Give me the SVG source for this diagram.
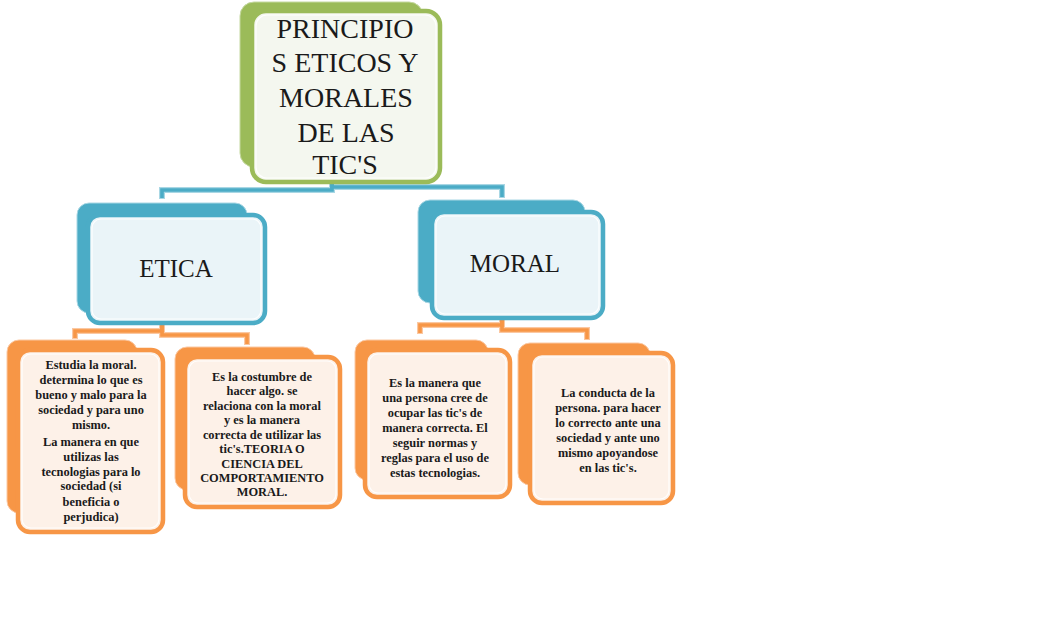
<svg xmlns="http://www.w3.org/2000/svg" width="1055" height="630" viewBox="0 0 1055 630">
<style>
.bg{fill:#ffffff}
.gback{fill:#9bbb59;stroke:#c5d9a0;stroke-width:1}
.gfront{fill:#f4f7ef;stroke:#9bbb59;stroke-width:4.5}
.bback{fill:#4bacc6;stroke:#a9d7e4;stroke-width:1}
.bfront{fill:#eaf4f8;stroke:#4bacc6;stroke-width:4.5}
.oback{fill:#f79646;stroke:#fbc8a2;stroke-width:1}
.ofront{fill:#fdf1e8;stroke:#f79646;stroke-width:4.5}
.inner{fill:none;stroke:#ffffff;stroke-width:1.2;opacity:0.9}
.cbo{fill:none;stroke:#a9d7e4;stroke-width:6;stroke-linejoin:miter}
.cb{fill:none;stroke:#4bacc6;stroke-width:3.6;stroke-linejoin:miter}
.coo{fill:none;stroke:#fbc8a2;stroke-width:6;stroke-linejoin:miter}
.co{fill:none;stroke:#f79646;stroke-width:3.6;stroke-linejoin:miter}
.title{font-family:"Liberation Serif","DejaVu Serif",serif;font-size:28px;fill:#1a1a1a;text-anchor:middle}
.mid{font-family:"Liberation Serif","DejaVu Serif",serif;font-size:25px;fill:#1a1a1a;text-anchor:middle}
.body{font-family:"Liberation Serif","DejaVu Serif",serif;font-size:12.4px;font-weight:bold;fill:#1a1a1a;text-anchor:middle}
</style>
<rect class="bg" x="0" y="0" width="1055" height="630"/>

<g id="connectors">
  <path class="cbo" d="M332,183 V190 H162 V199"/>
  <path class="cbo" d="M332,183 V187 H502 V198"/>
  <path class="cb" d="M332,183 V190 H162 V198"/>
  <path class="cb" d="M332,183 V187 H502 V197"/>
  <path class="coo" d="M162,323 V331 H75 V339"/>
  <path class="coo" d="M162,323 V335 H247 V345"/>
  <path class="co" d="M162,323 V331 H75 V338"/>
  <path class="co" d="M162,323 V335 H247 V344"/>
  <path class="coo" d="M502,318 V325 H420 V334"/>
  <path class="coo" d="M502,318 V330 H587 V340"/>
  <path class="co" d="M502,318 V325 H420 V333"/>
  <path class="co" d="M502,318 V330 H587 V339"/>
</g>

<g id="node-principios">
  <rect class="gback" x="240" y="2" width="183" height="165" rx="14"/>
  <rect class="gfront" x="252" y="11" width="188" height="171" rx="14"/>
  <rect class="inner" x="256" y="15" width="180" height="163" rx="11"/>
  <text class="title" x="345" y="38">PRINCIPIO</text>
  <text class="title" x="345" y="72">S ETICOS Y</text>
  <text class="title" x="346" y="107">MORALES</text>
  <text class="title" x="346" y="142">DE LAS</text>
  <text class="title" x="345" y="174">TIC'S</text>
</g>

<g id="node-etica">
  <rect class="bback" x="77" y="203" width="170" height="110" rx="12"/>
  <rect class="bfront" x="88" y="215" width="177" height="108" rx="12"/>
  <rect class="inner" x="92" y="219" width="169" height="100" rx="9"/>
  <text class="mid" x="176" y="277">ETICA</text>
</g>

<g id="node-moral">
  <rect class="bback" x="418" y="200" width="167" height="103" rx="12"/>
  <rect class="bfront" x="432" y="212" width="171" height="106" rx="12"/>
  <rect class="inner" x="436" y="216" width="163" height="98" rx="9"/>
  <text class="mid" x="515" y="272">MORAL</text>
</g>

<g id="node-etica-1">
  <rect class="oback" x="7" y="340" width="130" height="173" rx="12"/>
  <rect class="ofront" x="18" y="350" width="145" height="182" rx="12"/>
  <rect class="inner" x="22" y="354" width="137" height="174" rx="9"/>
  <text class="body" x="91" y="369">Estudia la moral.</text>
  <text class="body" x="91" y="384">determina lo que es</text>
  <text class="body" x="91" y="399">bueno y malo para la</text>
  <text class="body" x="91" y="414">sociedad y para uno</text>
  <text class="body" x="91" y="429">mismo.</text>
  <text class="body" x="91" y="446">La manera en que</text>
  <text class="body" x="91" y="461">utilizas las</text>
  <text class="body" x="91" y="476">tecnologias para lo</text>
  <text class="body" x="91" y="490">sociedad (si</text>
  <text class="body" x="91" y="506">beneficia o</text>
  <text class="body" x="91" y="521">perjudica)</text>
</g>

<g id="node-etica-2">
  <rect class="oback" x="175" y="347" width="140" height="143" rx="12"/>
  <rect class="ofront" x="185" y="357" width="155" height="150" rx="12"/>
  <rect class="inner" x="189" y="361" width="147" height="142" rx="9"/>
  <text class="body" x="262" y="381">Es la costumbre de</text>
  <text class="body" x="262" y="395">hacer algo. se</text>
  <text class="body" x="262" y="410">relaciona con la moral</text>
  <text class="body" x="262" y="424">y es la manera</text>
  <text class="body" x="262" y="439">correcta de utilizar las</text>
  <text class="body" x="262" y="453">tic's.TEORIA O</text>
  <text class="body" x="262" y="468">CIENCIA DEL</text>
  <text class="body" x="262" y="482">COMPORTAMIENTO</text>
  <text class="body" x="262" y="496">MORAL.</text>
</g>

<g id="node-moral-1">
  <rect class="oback" x="355" y="340" width="133" height="140" rx="12"/>
  <rect class="ofront" x="365" y="350" width="145" height="147" rx="12"/>
  <rect class="inner" x="369" y="354" width="137" height="139" rx="9"/>
  <text class="body" x="435" y="387">Es la manera que</text>
  <text class="body" x="435" y="402">una persona cree  de</text>
  <text class="body" x="435" y="417">ocupar las tic's de</text>
  <text class="body" x="435" y="432">manera correcta. El</text>
  <text class="body" x="435" y="447">seguir normas y</text>
  <text class="body" x="435" y="462">reglas para el uso de</text>
  <text class="body" x="435" y="477">estas tecnologias.</text>
</g>

<g id="node-moral-2">
  <rect class="oback" x="518" y="343" width="132" height="142" rx="12"/>
  <rect class="ofront" x="530" y="353" width="143" height="150" rx="12"/>
  <rect class="inner" x="534" y="357" width="135" height="142" rx="9"/>
  <text class="body" x="608" y="397">La conducta de la</text>
  <text class="body" x="608" y="412">persona. para hacer</text>
  <text class="body" x="608" y="427">lo correcto  ante una</text>
  <text class="body" x="608" y="442">sociedad y ante uno</text>
  <text class="body" x="608" y="457">mismo apoyandose</text>
  <text class="body" x="608" y="472">en las tic's.</text>
</g>
</svg>
